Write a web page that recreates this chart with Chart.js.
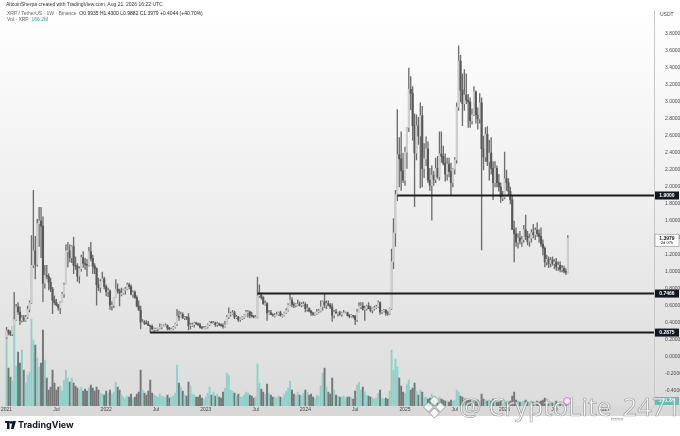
<!DOCTYPE html>
<html>
<head>
<meta charset="utf-8">
<script src="https://cdn.jsdelivr.net/npm/chart.js@4.4.1/dist/chart.umd.min.js"></script>
<style>
  html, body { margin: 0; padding: 0; background: #ffffff; }
  #wrap { position: relative; width: 680px; height: 436px; overflow: hidden; font-family: "Liberation Sans", "DejaVu Sans", sans-serif; }
  #chart { position: absolute; left: 0; top: 0; }
  .txt { position: absolute; white-space: nowrap; line-height: 1; }
  #credit { left: 6px; top: 2px; font-size: 5px; color: #333; }
  #legend1 { left: 7px; top: 11px; font-size: 5px; color: #222; }
  #legend2 { left: 7px; top: 17px; font-size: 5px; color: #222; }
  .dim { color: #666; }
  .teal { color: #26a69a; }
  #unit { left: 660px; top: 12px; font-size: 5px; color: #444; }
  #logo { left: 5px; top: 420px; font-size: 9px; font-weight: bold; color: #131722; font-family: "Inter", "Liberation Sans", sans-serif; }
  #logo svg { vertical-align: -1px; margin-right: 2px; }
  .mark { color: rgba(255,255,255,0.8); -webkit-text-stroke: 0.7px rgba(130,130,130,0.7); font-family: "Open Sans", sans-serif; }
  #markIcon { left: 421px; top: 392px; font-size: 30px; }
  #markText { left: 459px; top: 394px; font-size: 25px; letter-spacing: 0.3px; }
  #event { left: 563px; top: 397px; width: 6px; height: 6px; border: 1px solid #c87fd0; border-radius: 50%; background: #f6e4f7; }
</style>
</head>
<body>
<div id="wrap">
  <canvas id="chart" width="680" height="436"></canvas>
  <div class="txt" id="credit">AltcoinSherpa created with TradingView.com, Aug 21, 2026 16:22 UTC</div>
  <div class="txt" id="legend1"><span class="dim">XRP / TetherUS · 1W · Binance</span>&nbsp; O0.9935 H1.4300 L0.9882 C1.3979 +0.4044 (+40.70%)</div>
  <div class="txt" id="legend2"><span class="dim">Vol · XRP</span>&nbsp; <span class="teal">166.2M</span></div>
  <div class="txt" id="unit">USDT</div>
  <div class="txt" id="event"></div>
  <div class="txt mark" id="markIcon">❖</div>
  <div class="txt mark" id="markText">@ CryptoLite_2471</div>
  <div class="txt" id="logo"><svg width="11" height="8" viewBox="0 0 11 8"><rect x="0" y="0" width="4.5" height="2" fill="#131722"/><rect x="2" y="0" width="2.5" height="8" fill="#131722"/><circle cx="6.2" cy="1.4" r="1.3" fill="#131722"/><polygon points="7.5,0 11,0 8.6,8 6,8" fill="#131722"/></svg>TradingView</div>
</div>

<script>
// Weekly XRP / USDT candles, first week starts Jan 4 2021.
// Opens are the previous week's close (continuous market), only the first one is given.
const firstOpen = 0.235;

const weekHigh = [
  0.35, 0.32, 0.31, 0.36, 0.76, 0.62, 0.64, 0.59, 0.49, 0.49, 0.49, 0.60, 0.66,
  1.43, 1.96, 1.42, 1.62, 1.76, 1.76, 1.65, 1.08, 1.08, 0.98, 0.93, 0.82, 0.72,
  0.68, 0.62, 0.65, 0.76, 0.87, 1.32, 1.35, 1.32, 1.31, 1.41, 1.18, 1.10, 1.06,
  1.20, 1.24, 1.16, 1.15, 1.29, 1.35, 1.20, 1.10, 1.05, 0.93, 0.91, 1.00, 0.94,
  0.85, 0.81, 0.79, 0.65, 0.70, 0.91, 0.86, 0.80, 0.81, 0.80, 0.82, 0.87, 0.87,
  0.85, 0.78, 0.78, 0.72, 0.66, 0.60, 0.44, 0.43, 0.43, 0.42, 0.37, 0.38, 0.34,
  0.34, 0.34, 0.39, 0.38, 0.38, 0.39, 0.38, 0.35, 0.34, 0.36, 0.40, 0.56, 0.54,
  0.53, 0.52, 0.48, 0.48, 0.51, 0.40, 0.40, 0.41, 0.41, 0.40, 0.40, 0.36, 0.36,
  0.36, 0.39, 0.42, 0.42, 0.42, 0.41, 0.41, 0.40, 0.39, 0.39, 0.42, 0.49, 0.58,
  0.53, 0.55, 0.54, 0.49, 0.48, 0.46, 0.48, 0.50, 0.55, 0.55, 0.54, 0.53, 0.49,
  0.49, 0.94, 0.85, 0.75, 0.71, 0.66, 0.64, 0.55, 0.55, 0.51, 0.51, 0.53, 0.53,
  0.54, 0.50, 0.53, 0.57, 0.63, 0.74, 0.70, 0.64, 0.63, 0.67, 0.65, 0.64, 0.65,
  0.64, 0.62, 0.58, 0.55, 0.52, 0.52, 0.56, 0.56, 0.66, 0.66, 0.74, 0.66, 0.66,
  0.63, 0.63, 0.55, 0.56, 0.53, 0.54, 0.53, 0.55, 0.53, 0.53, 0.50, 0.50, 0.49,
  0.49, 0.56, 0.64, 0.64, 0.64, 0.60, 0.61, 0.64, 0.60, 0.58, 0.60, 0.61, 0.66,
  0.65, 0.55, 0.56, 0.56, 0.54, 0.58, 1.27, 1.63, 1.96, 2.91, 2.58, 2.65, 2.40,
  2.47, 2.70, 3.40, 3.30, 3.18, 2.86, 2.85, 2.82, 2.99, 2.95, 2.51, 2.59, 2.53,
  2.22, 2.25, 2.18, 2.34, 2.36, 2.65, 2.65, 2.48, 2.39, 2.34, 2.34, 2.28, 2.22,
  2.35, 2.99, 3.66, 3.55, 3.33, 3.38, 3.33, 3.09, 3.05, 2.92, 3.18, 3.13, 2.93,
  3.10, 3.05, 2.60, 2.70, 2.71, 2.55, 2.58, 2.30, 2.30, 2.25, 2.15, 2.05, 1.95,
  2.41, 2.20, 2.10, 2.00, 1.90, 1.60, 1.52, 1.45, 1.48, 1.42, 1.55, 1.67, 1.48,
  1.45, 1.50, 1.56, 1.52, 1.58, 1.50, 1.52, 1.38, 1.30, 1.20, 1.18, 1.17, 1.18,
  1.15, 1.16, 1.12, 1.12, 1.08, 1.07, 1.04, 1.43
];

const weekLow = [
  0.22, 0.26, 0.25, 0.25, 0.36, 0.43, 0.50, 0.38, 0.41, 0.42, 0.42, 0.45, 0.53,
  0.63, 1.05, 0.92, 1.07, 1.30, 1.17, 0.65, 0.81, 0.92, 0.79, 0.77, 0.51, 0.62,
  0.60, 0.55, 0.51, 0.64, 0.70, 0.85, 1.06, 1.12, 1.11, 0.98, 1.03, 0.89, 0.87,
  1.01, 1.05, 1.03, 0.95, 1.07, 1.13, 0.98, 0.98, 0.61, 0.78, 0.76, 0.89, 0.80,
  0.72, 0.71, 0.56, 0.55, 0.58, 0.70, 0.75, 0.60, 0.72, 0.74, 0.74, 0.79, 0.80,
  0.73, 0.70, 0.69, 0.59, 0.55, 0.33, 0.40, 0.38, 0.39, 0.37, 0.2875, 0.32, 0.30,
  0.31, 0.31, 0.33, 0.33, 0.36, 0.36, 0.32, 0.32, 0.32, 0.32, 0.34, 0.37, 0.43,
  0.47, 0.45, 0.44, 0.44, 0.32, 0.33, 0.36, 0.35, 0.38, 0.37, 0.34, 0.33, 0.33,
  0.33, 0.34, 0.37, 0.40, 0.39, 0.36, 0.36, 0.37, 0.36, 0.34, 0.35, 0.38, 0.45,
  0.48, 0.50, 0.45, 0.45, 0.42, 0.42, 0.44, 0.45, 0.48, 0.47, 0.46, 0.47, 0.46,
  0.46, 0.46, 0.70, 0.68, 0.62, 0.61, 0.43, 0.50, 0.50, 0.48, 0.47, 0.49, 0.49,
  0.48, 0.47, 0.48, 0.51, 0.54, 0.60, 0.59, 0.58, 0.59, 0.60, 0.60, 0.59, 0.60,
  0.53, 0.54, 0.53, 0.49, 0.49, 0.49, 0.50, 0.52, 0.53, 0.55, 0.58, 0.57, 0.60,
  0.57, 0.42, 0.46, 0.51, 0.48, 0.49, 0.48, 0.51, 0.51, 0.48, 0.46, 0.47, 0.46,
  0.38, 0.42, 0.53, 0.57, 0.55, 0.43, 0.55, 0.57, 0.53, 0.52, 0.55, 0.57, 0.58,
  0.50, 0.51, 0.53, 0.49, 0.49, 0.50, 0.56, 1.04, 1.30, 1.84, 2.00, 1.96, 2.05,
  2.02, 2.22, 2.65, 2.91, 2.55, 1.77, 2.32, 2.50, 1.99, 2.00, 2.11, 2.25, 2.05,
  1.96, 1.61, 2.02, 2.05, 2.10, 2.08, 2.29, 2.26, 2.07, 2.08, 2.12, 1.90, 2.00,
  2.15, 2.28, 2.90, 3.00, 2.72, 2.90, 2.98, 2.70, 2.70, 2.74, 2.84, 2.75, 2.68,
  2.75, 1.26, 2.20, 2.30, 2.25, 2.08, 2.15, 1.85, 2.00, 2.00, 1.95, 1.82, 1.84,
  1.86, 1.96, 1.90, 1.80, 1.50, 1.12, 1.30, 1.28, 1.33, 1.30, 1.35, 1.38, 1.32,
  1.30, 1.35, 1.40, 1.38, 1.42, 1.35, 1.30, 1.20, 1.06, 1.08, 1.05, 1.06, 1.08,
  1.04, 1.02, 1.02, 1.00, 1.00, 0.99, 0.97, 0.9882
];

const weekClose = [
  0.31, 0.29, 0.27, 0.36, 0.44, 0.59, 0.53, 0.43, 0.46, 0.43, 0.47, 0.56, 0.64,
  1.08, 1.25, 1.09, 1.57, 1.60, 1.54, 0.87, 0.96, 0.95, 0.88, 0.80, 0.67, 0.64,
  0.61, 0.58, 0.64, 0.74, 0.85, 1.25, 1.25, 1.17, 1.30, 1.08, 1.07, 0.95, 1.04,
  1.17, 1.10, 1.09, 1.08, 1.24, 1.16, 1.07, 1.04, 0.85, 0.82, 0.89, 0.92, 0.83,
  0.77, 0.78, 0.61, 0.61, 0.70, 0.80, 0.78, 0.75, 0.75, 0.79, 0.80, 0.85, 0.83,
  0.74, 0.76, 0.70, 0.60, 0.55, 0.41, 0.41, 0.40, 0.39, 0.37, 0.36, 0.33, 0.33,
  0.33, 0.34, 0.35, 0.37, 0.37, 0.37, 0.34, 0.33, 0.33, 0.35, 0.39, 0.48, 0.47,
  0.50, 0.46, 0.47, 0.46, 0.37, 0.38, 0.38, 0.40, 0.39, 0.38, 0.35, 0.34, 0.34,
  0.35, 0.38, 0.41, 0.40, 0.40, 0.38, 0.39, 0.38, 0.37, 0.36, 0.38, 0.47, 0.51,
  0.51, 0.52, 0.47, 0.47, 0.44, 0.45, 0.47, 0.49, 0.53, 0.53, 0.49, 0.48, 0.47,
  0.47, 0.72, 0.73, 0.70, 0.63, 0.63, 0.52, 0.52, 0.50, 0.49, 0.49, 0.50, 0.52,
  0.49, 0.49, 0.52, 0.55, 0.61, 0.67, 0.62, 0.61, 0.62, 0.62, 0.61, 0.62, 0.62,
  0.57, 0.57, 0.54, 0.52, 0.50, 0.51, 0.53, 0.54, 0.59, 0.65, 0.61, 0.63, 0.61,
  0.59, 0.49, 0.53, 0.52, 0.52, 0.50, 0.52, 0.52, 0.52, 0.49, 0.48, 0.49, 0.48,
  0.44, 0.53, 0.60, 0.60, 0.56, 0.57, 0.60, 0.57, 0.55, 0.57, 0.58, 0.59, 0.64,
  0.53, 0.54, 0.55, 0.52, 0.51, 0.57, 1.12, 1.46, 1.91, 2.38, 2.33, 2.19, 2.08,
  2.41, 2.70, 3.15, 3.10, 2.72, 2.40, 2.72, 2.60, 2.84, 2.22, 2.33, 2.45, 2.08,
  2.02, 2.14, 2.09, 2.22, 2.12, 2.39, 2.36, 2.28, 2.15, 2.27, 2.18, 2.05, 2.21,
  2.32, 2.94, 3.48, 3.14, 2.98, 3.08, 3.02, 3.00, 2.78, 2.85, 3.12, 2.85, 2.80,
  2.99, 2.45, 2.35, 2.62, 2.30, 2.40, 2.22, 2.05, 2.22, 2.05, 2.00, 1.88, 1.88,
  2.10, 2.05, 1.95, 1.85, 1.50, 1.45, 1.35, 1.40, 1.36, 1.38, 1.50, 1.42, 1.36,
  1.40, 1.46, 1.44, 1.49, 1.45, 1.42, 1.33, 1.28, 1.12, 1.15, 1.10, 1.14, 1.10,
  1.12, 1.06, 1.08, 1.03, 1.04, 1.01, 0.9935, 1.3979
];

// Weekly volume, billions of XRP (rough bar heights).
const weekVolume = [
  7.3, 3.8, 2.9, 2.5, 8.8, 4.0, 5.4, 4.3, 5.6, 3.6, 2.3, 3.1, 3.4,
  8.7, 6.6, 6.1, 4.8, 3.9, 4.3, 7.6, 4.6, 2.8, 1.6, 1.9, 3.6, 2.3,
  1.6, 1.9, 2.0, 1.5, 2.6, 3.6, 2.8, 2.4, 2.8, 2.3, 2.0, 1.8, 1.6,
  1.9, 1.5, 1.7, 1.5, 1.8, 2.1, 1.8, 1.5, 1.9, 1.6, 1.3, 1.2, 1.1,
  1.5, 1.3, 1.6, 1.2, 1.4, 2.4, 1.9, 1.6, 1.1, 0.9, 0.8, 1.0, 0.9,
  1.2, 0.8, 0.9, 1.2, 1.4, 3.6, 1.6, 1.3, 1.1, 1.5, 2.6, 1.3, 1.1,
  1.0, 0.9, 1.2, 1.0, 0.9, 0.9, 1.1, 0.8, 0.9, 1.0, 1.3, 4.1, 2.3,
  1.9, 1.5, 1.1, 1.0, 2.4, 2.0, 1.2, 1.1, 0.9, 0.9, 1.1, 0.8, 0.7,
  0.9, 1.3, 1.9, 1.1, 1.4, 1.0, 1.2, 0.9, 0.8, 1.4, 1.8, 3.3, 3.1,
  1.6, 1.5, 1.3, 1.0, 1.2, 0.9, 0.9, 1.1, 1.4, 1.3, 1.1, 1.0, 0.8,
  0.9, 4.2, 2.3, 1.7, 1.4, 1.2, 2.2, 1.3, 1.1, 0.9, 0.9, 0.8, 1.0,
  0.9, 0.8, 1.2, 1.5, 1.8, 2.5, 1.6, 1.2, 1.1, 1.4, 1.1, 1.0, 1.3,
  1.6, 1.4, 1.1, 1.2, 0.9, 0.8, 1.1, 1.0, 2.0, 3.3, 3.8, 1.9, 1.4,
  1.2, 2.8, 1.6, 1.1, 1.0, 0.9, 0.9, 1.0, 0.8, 0.9, 0.9, 0.8, 0.7,
  1.5, 2.1, 2.4, 1.6, 1.9, 1.4, 1.1, 1.0, 0.9, 0.8, 0.7, 0.8, 1.3,
  1.6, 0.8, 0.7, 0.8, 0.7, 1.5, 5.6, 3.6, 4.7, 3.9, 2.8, 2.0, 1.4,
  1.3, 2.2, 2.6, 1.6, 1.8, 2.3, 1.5, 1.1, 1.6, 1.4, 0.9, 0.9, 0.7,
  0.8, 1.2, 0.6, 0.8, 0.6, 0.9, 0.7, 0.6, 0.5, 0.5, 0.4, 0.6, 0.5,
  0.6, 1.6, 1.4, 1.0, 0.9, 0.8, 0.7, 0.6, 0.6, 0.5, 0.6, 0.5, 0.6,
  0.5, 1.2, 0.7, 0.6, 0.5, 0.6, 0.5, 0.7, 0.5, 0.4, 0.4, 0.5, 0.3,
  0.6, 0.4, 0.4, 0.5, 1.0, 1.4, 0.6, 0.5, 0.4, 0.4, 0.5, 0.6, 0.4,
  0.4, 0.5, 0.4, 0.4, 0.5, 0.4, 0.5, 0.6, 0.8, 0.5, 0.4, 0.4, 0.3,
  0.4, 0.5, 0.3, 0.4, 0.3, 0.3, 0.4, 0.5
];

// Horizontal levels drawn on the chart and the week they start from.
const levelPrices = [1.9, 0.7466, 0.2875];
const levelStartWeek = [204, 131, 75];

// Time axis labels (week index -> text) and price axis ticks.
const xTickWeeks = [0, 26, 52, 78, 104, 130, 156, 182, 208, 234, 260, 286, 312];
const xTickLabels = ['2021', 'Jul', '2022', 'Jul', '2023', 'Jul', '2024', 'Jul', '2025', 'Jul', '2026', 'Jul', '2027'];
const yTickValues = [-0.4, -0.2, 0, 0.2, 0.4, 0.6, 0.8, 1.0, 1.2, 1.4, 1.6, 1.8, 2.0,
  2.2, 2.4, 2.6, 2.8, 3.0, 3.2, 3.4, 3.6, 3.8];

// Visible window of the pane.
const X_MIN = -2.6, X_MAX = 338;
const PRICE_MIN = -0.576, PRICE_MAX = 4.082;
const VOL_MAX = 39.6;

const weekOpen = weekClose.map((c, i) => (i === 0 ? firstOpen : weekClose[i - 1]));
const isUp = weekClose.map((c, i) => c >= weekOpen[i]);

const bodyData = weekClose.map((c, i) => ({ x: i, y: [weekOpen[i], c] }));
const wickData = weekClose.map((c, i) => ({ x: i, y: [weekLow[i], weekHigh[i]] }));
const volData = weekVolume.map((v, i) => ({ x: i, y: v }));

const levelSets = levelPrices.map((p, k) => ({
  type: 'line',
  data: [{ x: levelStartWeek[k], y: p }, { x: X_MAX, y: p }],
  borderColor: '#1c1c1c',
  borderWidth: 2,
  pointRadius: 0,
  yAxisID: 'y',
  order: -1
}));

// Gradient pane behind everything, plus the grey time-axis strip.
const paneBackground = {
  id: 'paneBackground',
  beforeDraw(chart) {
    const ctx = chart.ctx;
    const a = chart.chartArea;
    const g = ctx.createLinearGradient(0, a.top, 0, a.bottom);
    g.addColorStop(0, '#ffffff');
    g.addColorStop(0.5, '#eeeeee');
    g.addColorStop(1, '#dcdcdc');
    ctx.save();
    ctx.fillStyle = g;
    ctx.fillRect(0, a.top, chart.width, a.bottom - a.top);
    ctx.fillStyle = '#d8d8d8';
    ctx.fillRect(0, a.bottom, chart.width, 10);
    ctx.restore();
  }
};

// Price tags on the right axis.
const priceTags = {
  id: 'priceTags',
  afterDraw(chart) {
    const ctx = chart.ctx;
    const y = chart.scales.y;
    const x0 = y.left + 1;
    const w = chart.width - y.left - 2;
    ctx.save();
    ctx.textAlign = 'center';
    ctx.textBaseline = 'middle';
    ctx.font = 'bold 5px "Liberation Sans", sans-serif';

    levelPrices.forEach(p => {
      const py = y.getPixelForValue(p);
      ctx.fillStyle = '#131722';
      ctx.fillRect(x0, py - 4, w, 8);
      ctx.fillStyle = '#ffffff';
      ctx.fillText(p.toFixed(4), x0 + w / 2, py);
    });

    const last = weekClose.length - 1;
    const cy = y.getPixelForValue(weekClose[last]);
    ctx.fillStyle = '#ffffff';
    ctx.fillRect(x0, cy - 4, w, 12);
    ctx.strokeStyle = '#777777';
    ctx.lineWidth = 0.5;
    ctx.strokeRect(x0, cy - 4, w, 12);
    ctx.fillStyle = '#131722';
    ctx.fillText(weekClose[last].toFixed(4), x0 + w / 2, cy);
    ctx.font = '4px "Liberation Sans", sans-serif';
    ctx.fillText('2d 07h', x0 + w / 2, cy + 5);

    const vy = Math.min(chart.scales.yVol.getPixelForValue(weekVolume[last]), chart.chartArea.bottom - 5);
    ctx.fillStyle = '#5cc2b4';
    ctx.fillRect(x0, vy - 4, w, 8);
    ctx.fillStyle = '#ffffff';
    ctx.font = 'bold 5px "Liberation Sans", sans-serif';
    ctx.fillText('166.2M', x0 + w / 2, vy);
    ctx.restore();
  }
};

new Chart(document.getElementById('chart'), {
  type: 'bar',
  data: {
    datasets: [
      ...levelSets,
      {
        data: bodyData,
        backgroundColor: isUp.map(u => (u ? '#cfcfcf' : '#585858')),
        barThickness: 1.5,
        minBarLength: 0.8,
        yAxisID: 'y',
        order: 0
      },
      {
        data: wickData,
        backgroundColor: '#6e6e6e',
        barThickness: 0.7,
        yAxisID: 'y',
        order: 1
      },
      {
        data: volData,
        backgroundColor: isUp.map(u => (u ? '#8fd1c9' : '#777777')),
        barThickness: 1.3,
        yAxisID: 'yVol',
        order: 2
      }
    ]
  },
  options: {
    responsive: false,
    animation: false,
    events: [],
    datasets: { bar: { grouped: false, borderWidth: 0 } },
    layout: { padding: { top: 10, bottom: 22, left: 0, right: 0 } },
    plugins: {
      legend: { display: false },
      tooltip: { enabled: false }
    },
    scales: {
      x: {
        type: 'linear',
        position: 'bottom',
        min: X_MIN,
        max: X_MAX,
        offset: false,
        grid: { display: true, drawOnChartArea: false, drawTicks: false, color: 'rgba(0,0,0,0)' },
        border: { display: false },
        afterBuildTicks: s => { s.ticks = xTickWeeks.map(v => ({ value: v })); },
        ticks: {
          autoSkip: false,
          maxRotation: 0,
          padding: 1,
          color: '#444444',
          font: { size: 5, family: '"Liberation Sans", sans-serif' },
          callback: (v, i) => xTickLabels[i]
        }
      },
      y: {
        position: 'right',
        min: PRICE_MIN,
        max: PRICE_MAX,
        grid: { display: false },
        border: { display: true, color: '#c8c8c8' },
        afterBuildTicks: s => { s.ticks = yTickValues.map(v => ({ value: v })); },
        afterFit: s => { s.width = 26; },
        ticks: {
          autoSkip: false,
          padding: 3,
          color: '#4a4a4a',
          font: { size: 5, family: '"Liberation Sans", sans-serif' },
          callback: v => v.toFixed(4)
        }
      },
      yVol: {
        display: false,
        min: 0,
        max: VOL_MAX
      }
    }
  },
  plugins: [paneBackground, priceTags]
});
</script>
</body>
</html>
